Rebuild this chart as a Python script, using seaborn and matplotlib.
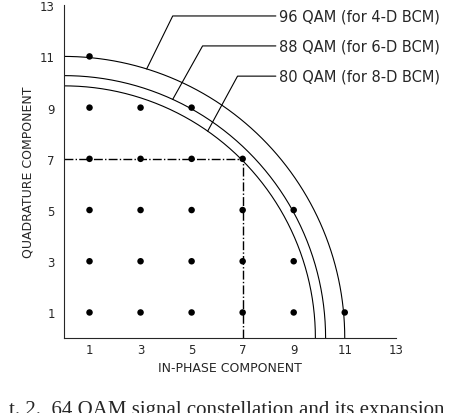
import numpy as np
import matplotlib
matplotlib.use("Agg")
import matplotlib.pyplot as plt
import seaborn as sns

sns.set_style("white")
plt.rcParams['font.family'] = ['DejaVu Sans']

pts_x = [1,3,5,7,9,11, 1,3,5,7,9, 1,3,5,7,9, 1,3,5,7, 1,3,5, 1]
pts_y = [1,1,1,1,1,1, 3,3,3,3,3, 5,5,5,5,5, 7,7,7,7, 9,9,9, 11]
radii = [11.0, 10.25, 9.85]
labels = ["96 QAM (for 4-D BCM)", "88 QAM (for 6-D BCM)", "80 QAM (for 8-D BCM)"]
ticks = [1,3,5,7,9,11,13]

fig = plt.figure(figsize=(4.74,4.14), dpi=100)
ax = fig.add_axes([0.135, 0.181, 0.70, 0.804])
sns.scatterplot(x=pts_x, y=pts_y, ax=ax, color='black', s=22, edgecolor='none', zorder=3)
th = np.linspace(0, np.pi/2, 300)
for r in radii:
    ax.plot(r*np.cos(th), r*np.sin(th), color='black', lw=0.8)
ax.plot([0,7],[7,7], color='black', lw=1, ls='-.')
ax.plot([7,7],[0,7], color='black', lw=1, ls='-.')

corners = [(4.26,12.58),(5.43,11.41),(6.8,10.23)]
hitx = [3.24, 4.26, 5.63]
for (cx,cy),hx,r,lab in zip(corners,hitx,radii,labels):
    hy = np.sqrt(r**2 - hx**2)
    ax.plot([hx,cx,8.3],[hy,cy,cy], color='black', lw=0.8, clip_on=False)
    ax.text(8.42, cy, lab, fontsize=10.5, va='center', ha='left', clip_on=False)

ax.set_xlim(0,13); ax.set_ylim(0,13)
ax.set_xticks(ticks); ax.set_yticks(ticks)
ax.tick_params(labelsize=8.5, length=3)
ax.tick_params(axis='x', direction='in')
ax.tick_params(axis='y', direction='out')
ax.set_xlabel("IN-PHASE COMPONENT", fontsize=9)
ax.set_ylabel("QUADRATURE COMPONENT", fontsize=9)
for s in ['top','right']:
    ax.spines[s].set_visible(False)
fig.text(0.02, -0.015, "t. 2.  64 QAM signal constellation and its expansion", fontsize=15,
         va='bottom', family=['Liberation Serif'])
fig.savefig("out.png", dpi=100)
